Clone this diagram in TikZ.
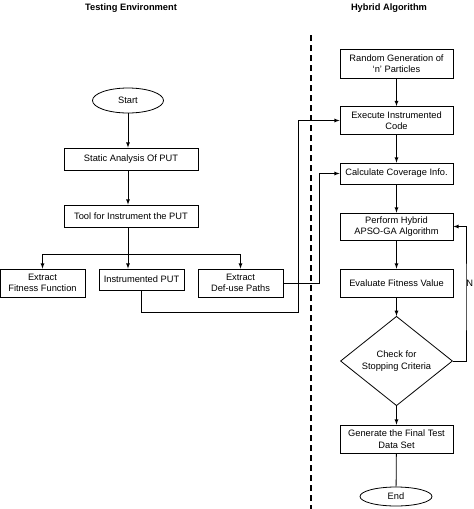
\documentclass[tikz,border=0pt]{standalone}
\usepackage{fontspec}
\setmainfont{Liberation Sans}
\usetikzlibrary{shapes.geometric}

\begin{document}
\begin{tikzpicture}[x=1pt, y=-1pt, line width=0.8pt,
    every node/.style={font=\fontsize{9.3}{11.5}\selectfont, align=center, inner sep=0pt},
    procbox/.style={draw, minimum height=22pt},
    termin/.style={draw, ellipse},
    title/.style={font=\fontsize{9.3}{11.5}\selectfont\bfseries}]
    \useasboundingbox (0,0) rectangle (474,509);
    % headings and separator
    \node[title] (hleft) at (131,8) {Testing Environment};
    \node[title] (hright) at (389,8) {Hybrid Algorithm};
    \draw[line width=1.1pt, dash pattern=on 6pt off 4pt] (311,35) -- (311,509);
    % testing environment
    \node[termin, minimum width=71pt, minimum height=25pt] (start) at (128,100.5) {Start};
    \node[procbox, minimum width=134pt] (static) at (131,159) {Static Analysis Of PUT};
    \node[procbox, minimum width=134pt] (tool) at (131,216) {Tool for Instrument the PUT};
    \node[procbox, minimum width=85pt, minimum height=28pt] (fit) at (42.5,283) {Extract\\Fitness Function};
    \node[procbox, minimum width=85pt, minimum height=21pt] (iput) at (141.5,279.5) {Instrumented PUT};
    \node[procbox, minimum width=85pt, minimum height=28pt] (defuse) at (240.5,283) {Extract\\Def-use Paths};
    \coordinate (br) at (128,254);
    \draw[-latex] (start) -- (start |- static.north);
    \draw[-latex] (static.south -| start) -- (start |- tool.north);
    \draw (tool.south -| br) -- (br);
    \draw[-latex] (br) -| (fit.north);
    \draw[-latex] (br) -| (defuse.north);
    \draw[-latex] (br) -- (br |- iput.north);
    % hybrid algorithm
    \node[procbox, minimum width=113pt, minimum height=29pt] (rand) at (396.5,63.5) {Random Generation of\\`n' Particles};
    \node[procbox, minimum width=113pt, minimum height=28pt] (exec) at (396.5,120.5) {Execute Instrumented\\Code};
    \node[procbox, minimum width=113pt, minimum height=21pt] (calc) at (396.5,173.5) {Calculate Coverage Info.};
    \node[procbox, minimum width=113pt, minimum height=27pt] (hyb) at (396.5,226.5) {Perform Hybrid\\APSO-GA Algorithm};
    \node[procbox, minimum width=113pt, minimum height=28pt] (eval) at (396.5,283) {Evaluate Fitness Value};
    \node[draw, diamond, minimum width=112pt, minimum height=70pt] (check) at (396.5,361) {Check for\\Stopping Criteria};
    \node[procbox, minimum width=113pt, minimum height=28pt] (gen) at (396.5,439) {Generate the Final Test\\Data Set};
    \node[termin, minimum width=72pt, minimum height=19pt] (finish) at (396,496.5) {End};
    \draw[-latex] (rand) -- (exec);
    \draw[-latex] (exec) -- (calc);
    \draw[-latex] (calc) -- (hyb);
    \draw[-latex] (hyb) -- (eval);
    \draw[-latex] (eval) -- (check);
    \draw[-latex] (check) -- (gen);
    \draw (gen) -- (finish);
    % links between the two sides
    \coordinate (ilink) at (298,312);
    \coordinate (dlink) at (319,283);
    \coordinate (loop) at (466,300);
    \draw[-latex] (iput.south) |- (ilink) |- (exec.west);
    \draw[-latex] (defuse.east) -- (dlink) |- (calc.west);
    \draw[-latex] (check.east) -| (loop) |- (hyb.east);
    \node[anchor=west] (no) at (466,283) {N};
\end{tikzpicture}
\end{document}
